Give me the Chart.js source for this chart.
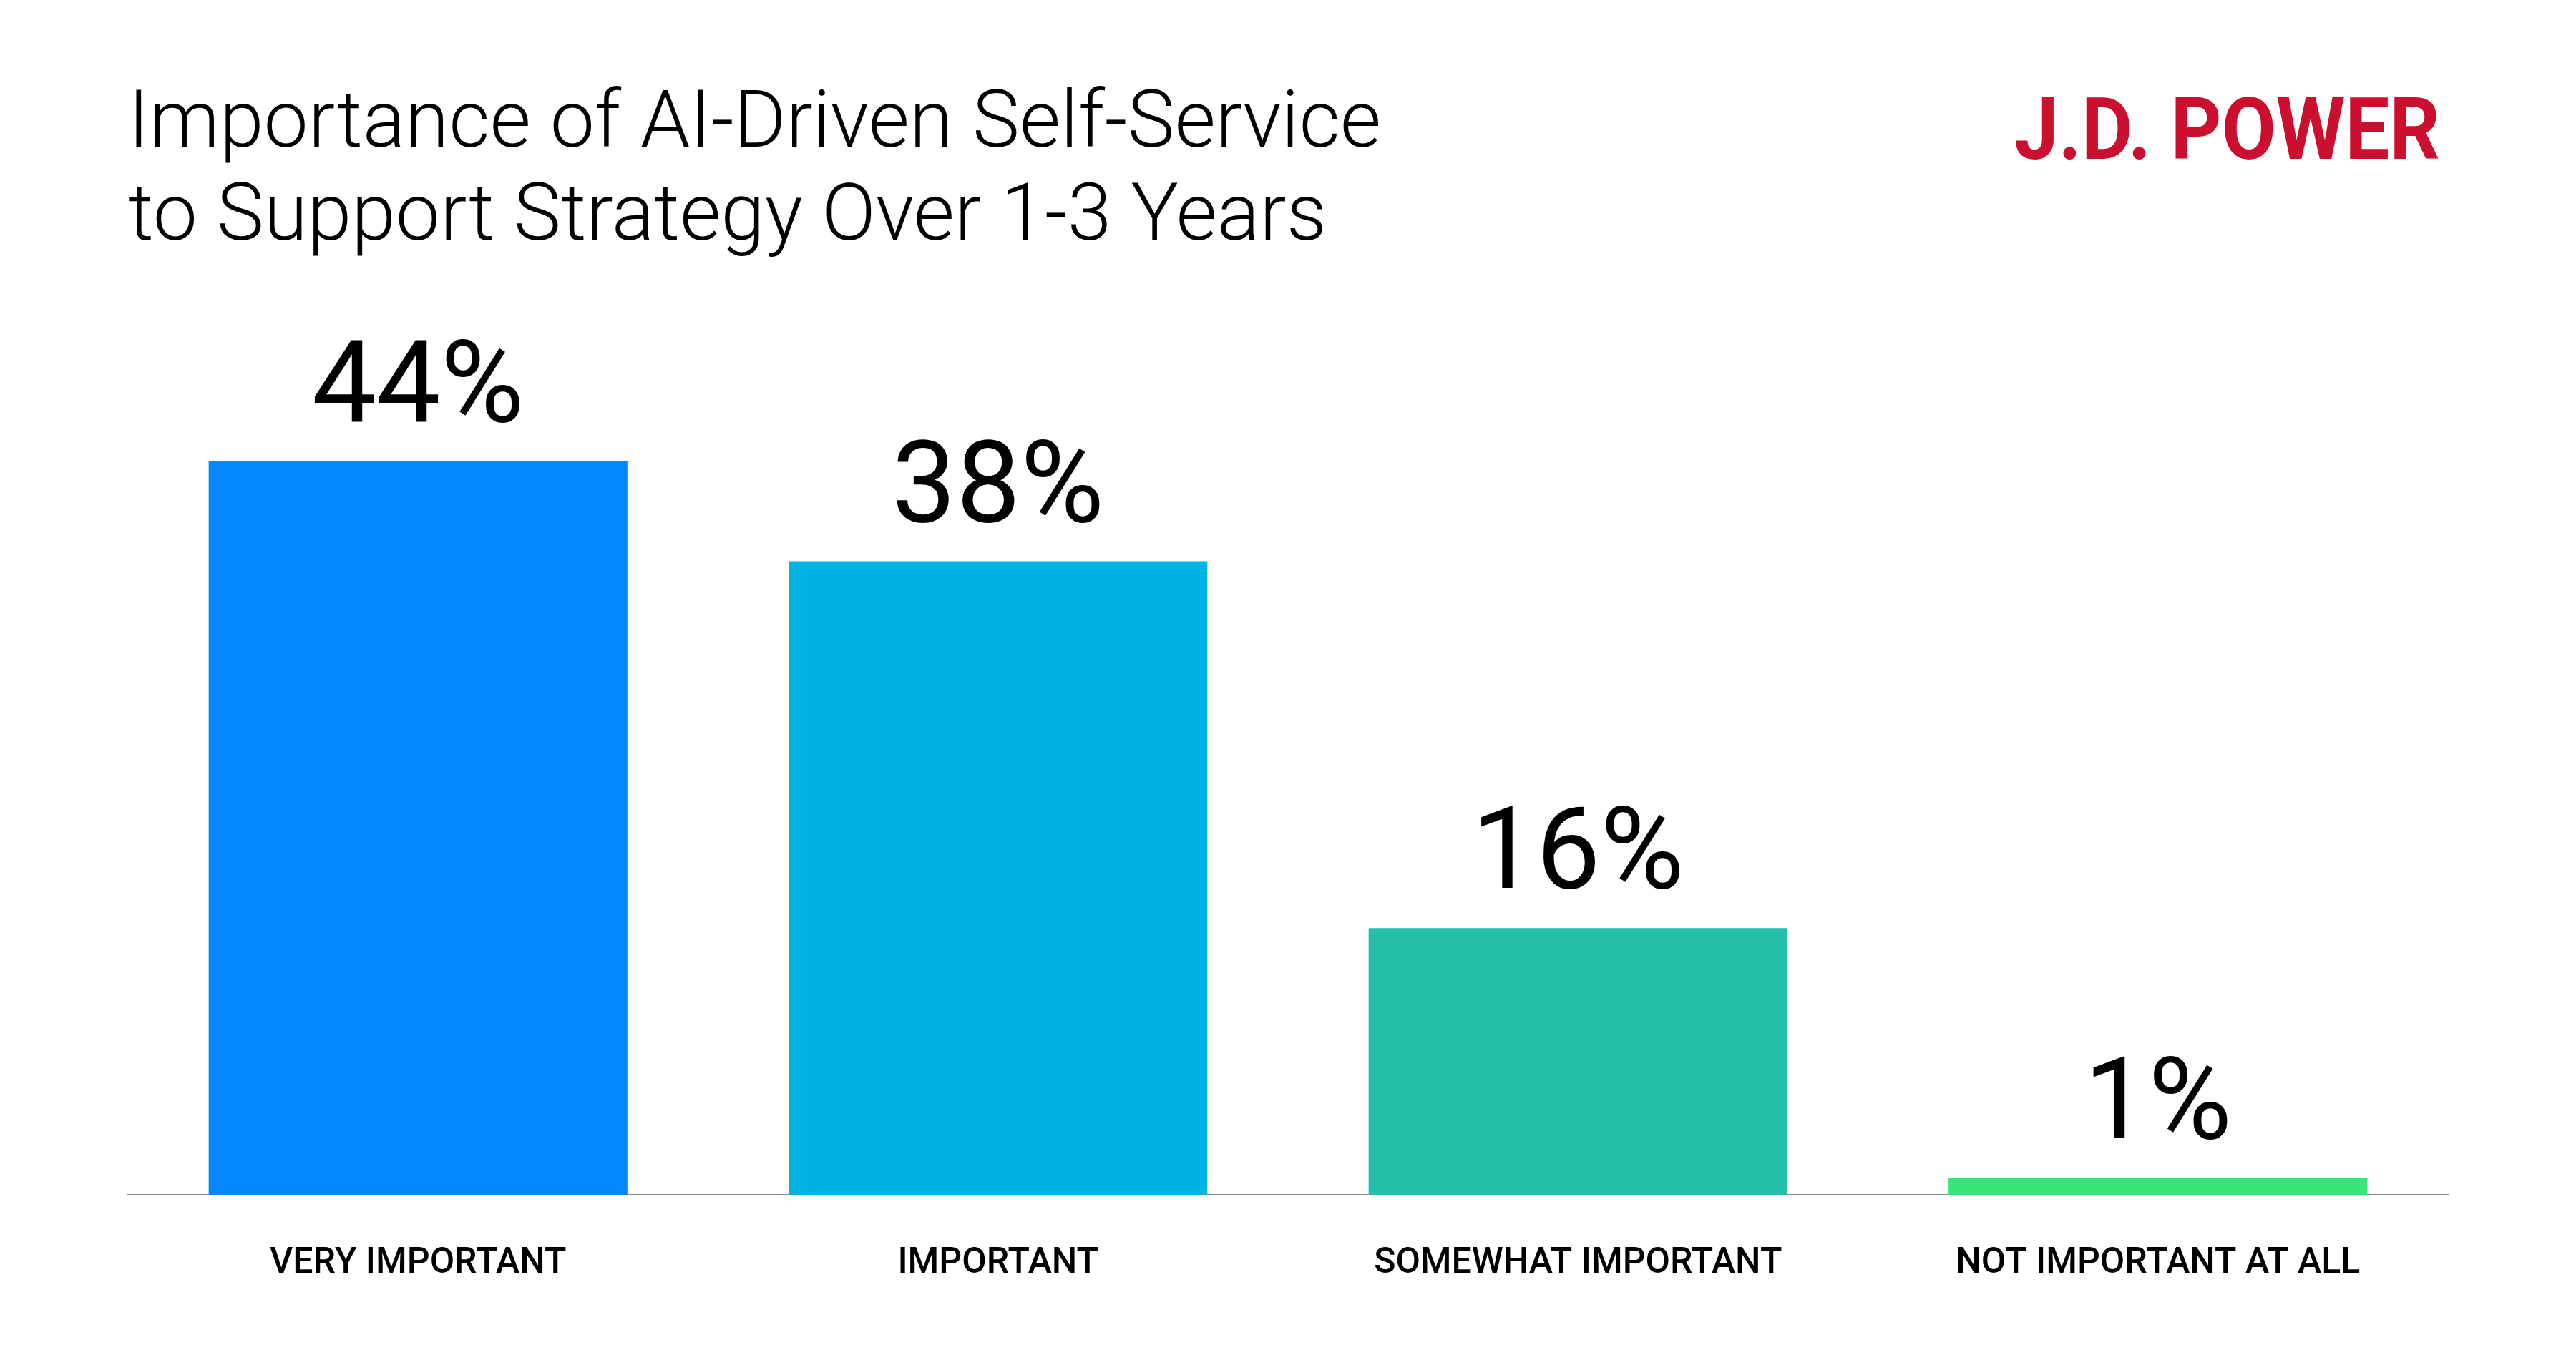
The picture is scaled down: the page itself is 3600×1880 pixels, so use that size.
<!DOCTYPE html>
<html>
<head>
<meta charset="utf-8">
<script src="https://cdn.jsdelivr.net/npm/chart.js@4/dist/chart.umd.min.js"></script>
<style>
  html, body { margin: 0; padding: 0; background: #fff; }
  #wrap { width: 3600px; height: 1880px; }
</style>
</head>
<body>
<div id="wrap"><canvas id="aiChart" width="3600" height="1880"></canvas></div>
<script>
// data
const categories = ['VERY IMPORTANT', 'IMPORTANT', 'SOMEWHAT IMPORTANT', 'NOT IMPORTANT AT ALL'];
const shares = [44, 38, 16, 1];
const barColors = ['#0388FC', '#00B3E3', '#23BFA8', '#33E779'];
const titleLines = ['Importance of AI-Driven Self-Service', 'to Support Strategy Over 1-3 Years'];
const brand = 'J.D. POWER';

// title, logo and value labels are drawn straight on the canvas
const decor = {
    id: 'decor',
    afterDraw(chart) {
        const ctx = chart.ctx;
        ctx.save();
        ctx.fillStyle = '#000';
        ctx.textAlign = 'left';
        ctx.textBaseline = 'alphabetic';
        ctx.font = '300 111px Roboto';
        ctx.fillText(titleLines[0], 179, 205);
        ctx.fillText(titleLines[1], 179, 335);

        ctx.fillStyle = '#CC0E2F';
        ctx.font = 'bold 120px Roboto';
        ctx.fillText(brand, 2815, 222, 595);

        // value above each bar
        ctx.fillStyle = '#000';
        ctx.textAlign = 'center';
        ctx.font = '400 160px Roboto';
        const meta = chart.getDatasetMeta(0);
        meta.data.forEach((bar, i) => {
            ctx.fillText(shares[i] + '%', bar.x, bar.y - 56);
        });
        ctx.restore();
    }
};

new Chart(document.getElementById('aiChart').getContext('2d'), {
    type: 'bar',
    data: {
        labels: categories,
        datasets: [{
            data: shares,
            backgroundColor: barColors,
            borderWidth: 0,
            categoryPercentage: 1,
            barPercentage: 0.722
        }]
    },
    options: {
        responsive: false,
        animation: false,
        devicePixelRatio: 1,
        layout: { padding: { top: 505, left: 179, right: 179, bottom: 18 } },
        plugins: {
            legend: { display: false },
            tooltip: { enabled: false }
        },
        scales: {
            x: {
                grid: { display: false, drawTicks: false },
                border: { display: true, color: '#888888', width: 2 },
                ticks: {
                    color: '#000',
                    padding: 66,
                    maxRotation: 0,
                    font: { family: 'Roboto', size: 50, weight: '500' }
                }
            },
            y: {
                display: false,
                min: 0,
                max: 50
            }
        }
    },
    plugins: [decor]
});
</script>
</body>
</html>
